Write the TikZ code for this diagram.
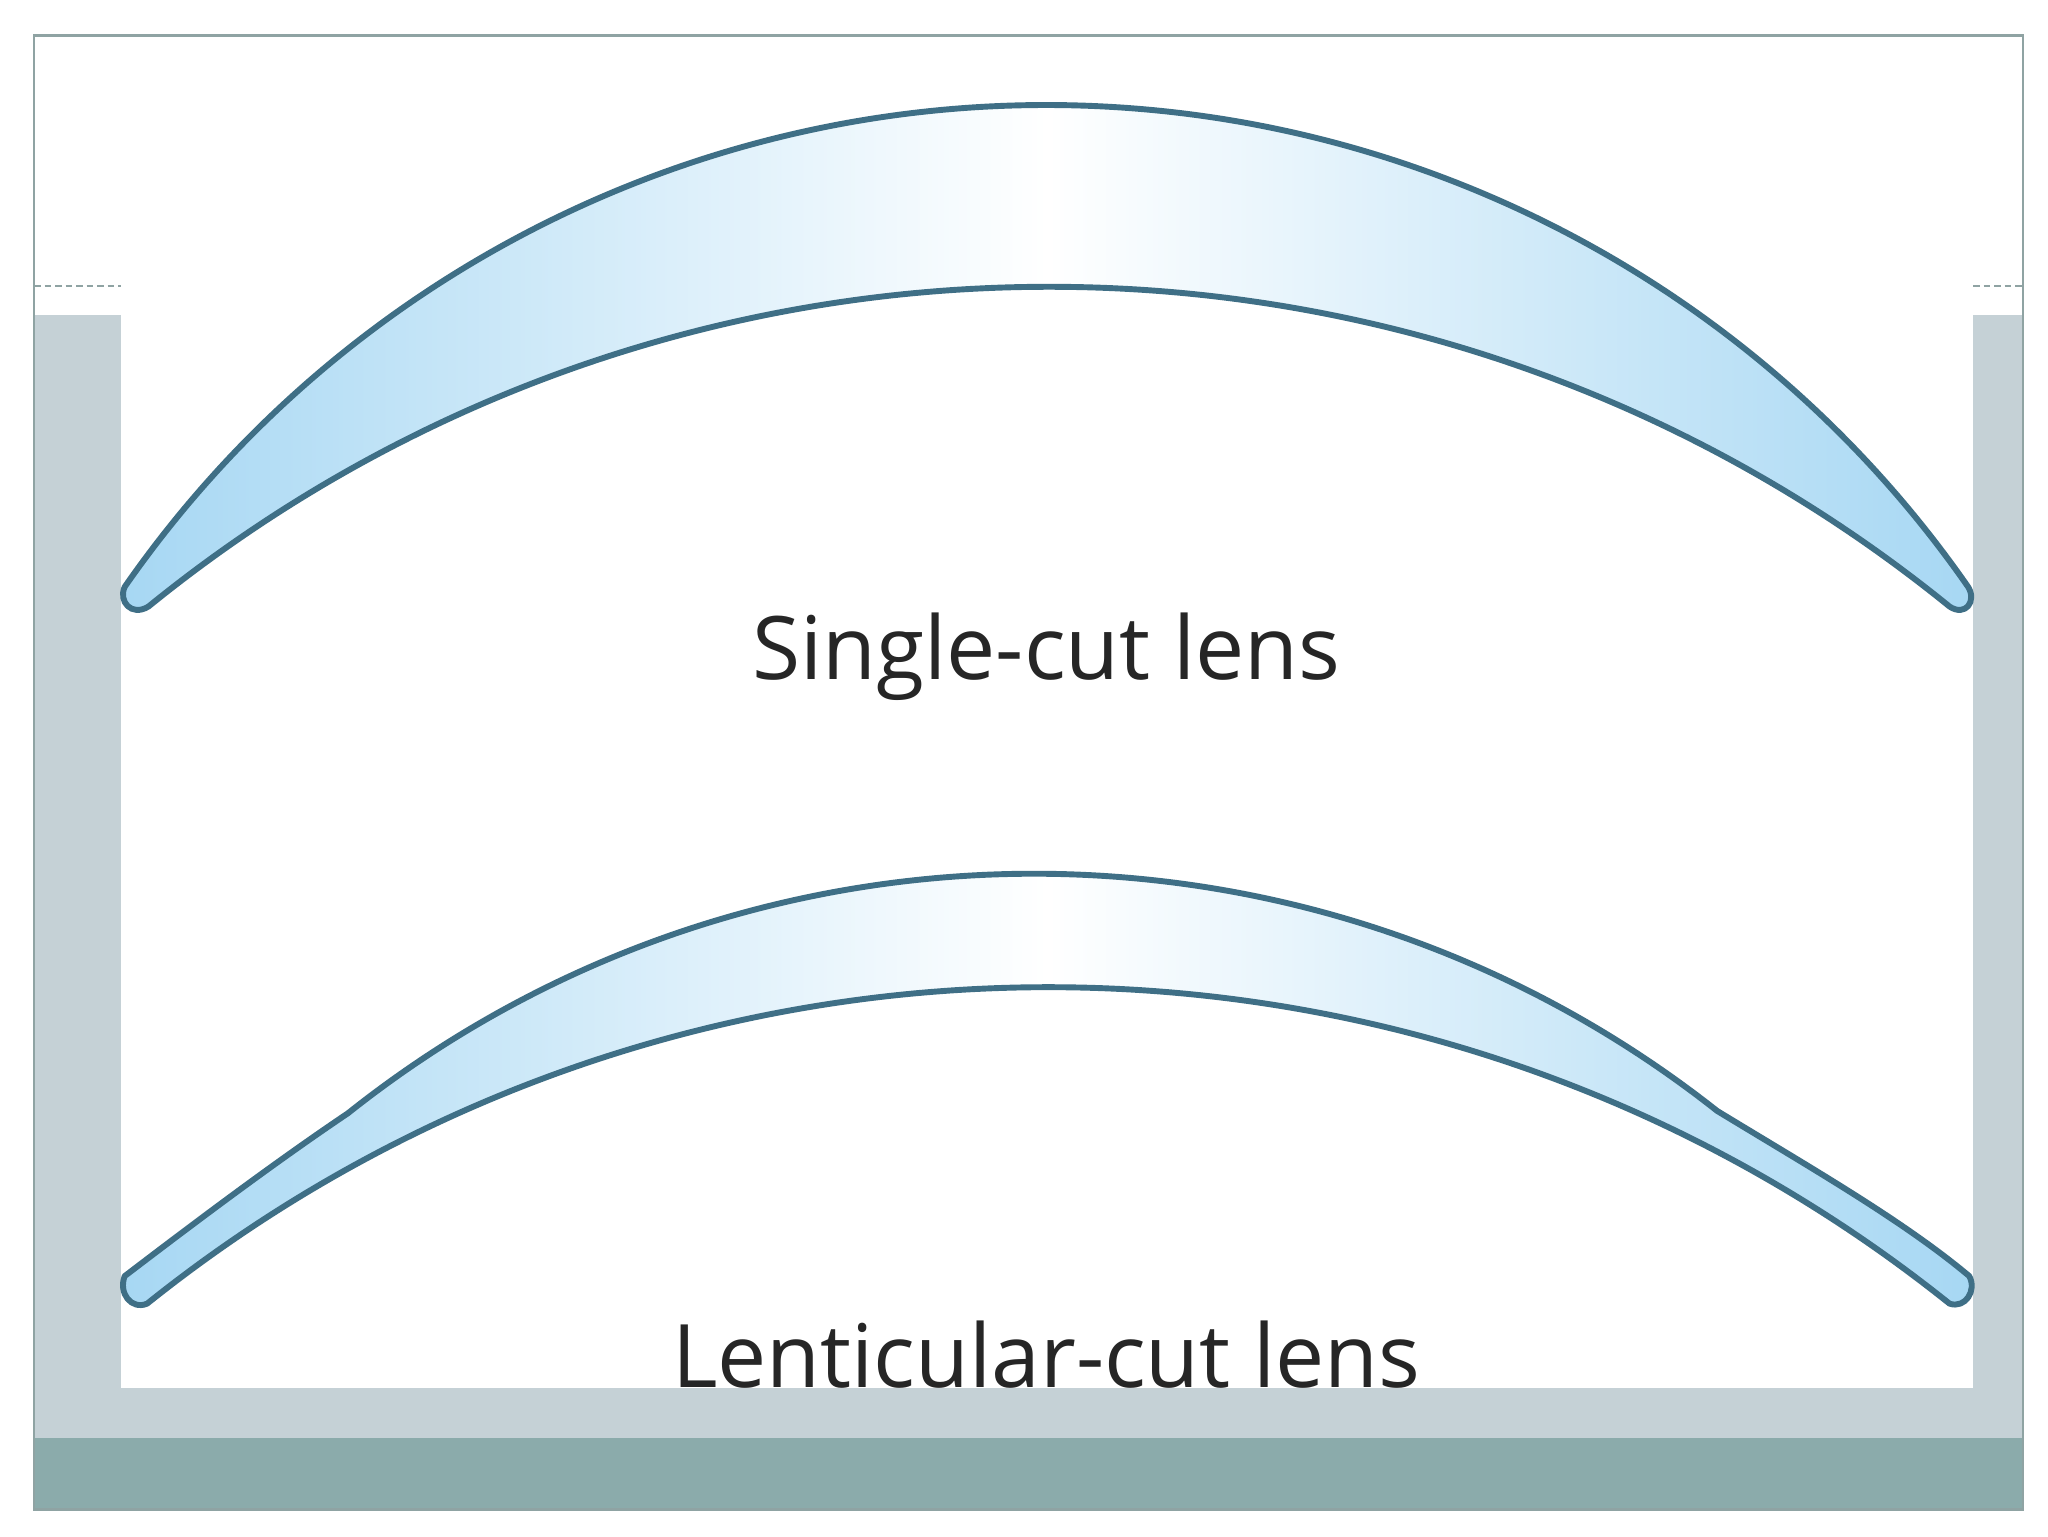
\documentclass[tikz,border=0pt]{standalone}
\usepackage{fontspec}
\setmainfont{Open Sans}
\definecolor{edge}{HTML}{3F6F86}
\definecolor{lensblue}{HTML}{A6D7F3}
\definecolor{panel}{HTML}{C5D1D6}
\definecolor{band}{HTML}{8BABAB}
\definecolor{frame}{HTML}{8FA3A3}
\tikzset{lens/.style={draw=edge,line width=0.45mm,line join=round,left color=lensblue,right color=lensblue,middle color=white,shading angle=90},
 lbl/.style={font=\fontsize{19}{23}\selectfont,text=black!85}}
\begin{document}
\begin{tikzpicture}[x=0.1mm,y=-0.1mm]
\useasboundingbox (0,0) rectangle (1560,1170);
\fill[white] (0,0) rectangle (1560,1170);
\fill[panel] (26,240) rectangle (1541,1095);
\fill[white] (92,240) rectangle (1503,1057);
\fill[band] (26,1095) rectangle (1541,1150);
\draw[frame,line width=0.2mm] (26,27) rectangle (1541,1150);
\draw[frame,dash pattern=on 0.5mm off 0.3mm,line width=0.12mm] (26,218) -- (92,218) (1503,218) -- (1541,218);
% top lens
\path[lens] (95,447) arc[start angle=-145.2,end angle=-34.8,radius=855]
  .. controls (1506,458) and (1497,470) .. (1485,462)
  arc[start angle=-50.9,end angle=-129.1,radius=1087.7]
  .. controls (100,470) and (90,458) .. (95,447) -- cycle;
% bottom lens
\path[lens] (95,972) .. controls (150,930) and (210,885) .. (265,848)
  arc[start angle=-128.5,end angle=-51.7,radius=839.6]
  .. controls (1380,890) and (1450,930) .. (1500,972)
  .. controls (1506,983) and (1497,997) .. (1485,993)
  arc[start angle=-51.3,end angle=-128.7,radius=1098]
  .. controls (100,998) and (90,985) .. (95,972) -- cycle;
\node[lbl] (single) at (797,500) {Single-cut lens};
\node[lbl] (lentic) at (797,1032) {Lenticular-cut lens};
\end{tikzpicture}
\end{document}
